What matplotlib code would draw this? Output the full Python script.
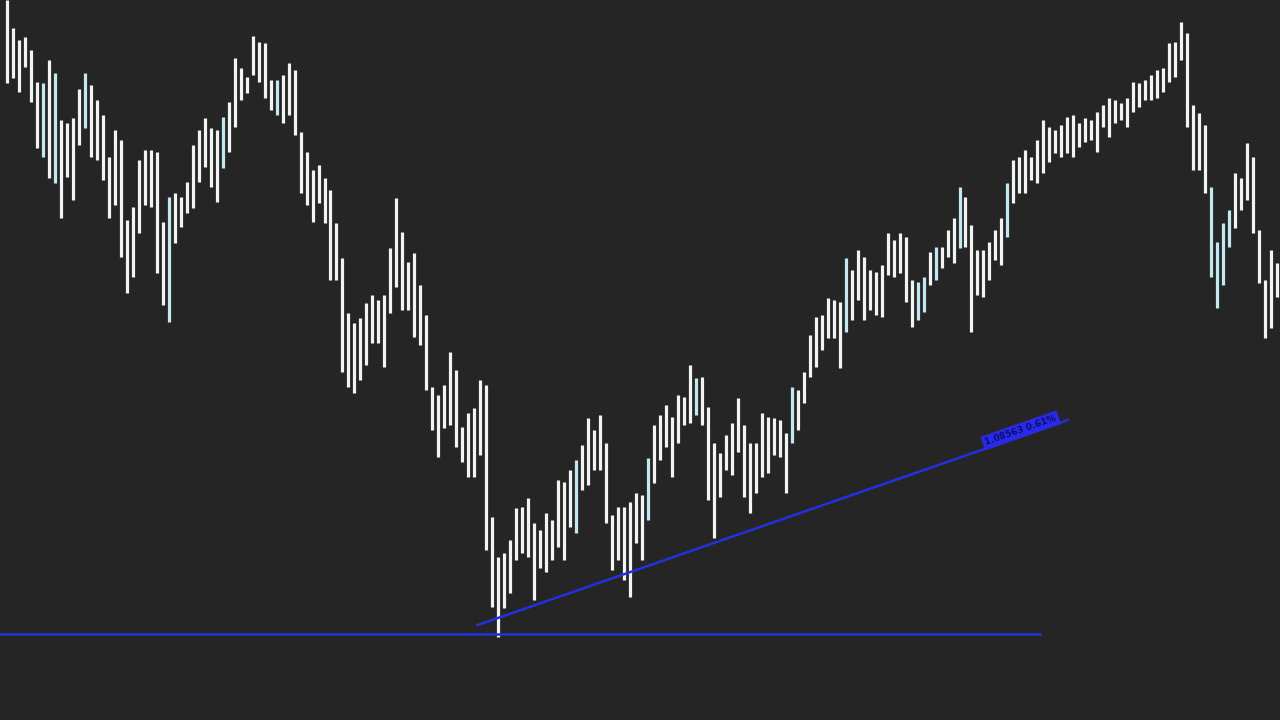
import matplotlib
matplotlib.use("Agg")
import matplotlib.pyplot as plt
import numpy as np

# Price bars (screen-level units: smaller value = higher price), read left to right
bar_top = [
    0, 28, 40, 37, 50, 82, 83, 60, 73, 120, 123, 118, 89, 73, 85, 100, 115, 157, 130, 140,
    220, 207, 160, 150, 150, 152, 222, 197, 193, 197, 182, 145, 130, 118,
    128, 130, 117, 102, 58, 68, 77, 36, 42, 43, 80, 80, 75, 63, 70, 132, 152, 170, 165, 178, 190, 223,
    258, 313, 323, 318, 303, 295, 300, 295, 248, 198, 232, 262, 253, 285, 315, 387, 395, 385, 352,
    370, 427, 413, 408, 380, 385,
    517, 557, 553, 540, 508, 507, 498, 523, 530, 513, 520, 480, 482, 470, 460, 445, 418, 430,
    415, 443, 515, 507, 507, 502, 493, 495, 458, 425, 415, 405, 417, 395, 397, 365, 378, 377,
    407, 443, 453, 435, 423, 398, 425, 443, 443, 413, 417, 418, 420, 433, 387, 390, 372, 335,
    317, 315, 298, 300, 302, 258, 270, 250, 257, 270, 272, 265, 233, 240, 233, 237, 280,
    282, 277, 252, 247, 247, 230, 218, 187, 197, 225, 250, 250, 242, 230, 218, 183, 160,
    157, 150, 157, 140, 120, 127, 130, 125, 117, 115, 123, 118, 120, 112, 105, 98, 100, 103, 98,
    82, 83, 80, 75, 70, 68, 43, 42, 22, 33,
    105, 113, 125, 187, 242, 223, 210, 173, 178, 143, 157, 230, 280, 250, 263,
]
bar_bottom = [
    83, 78, 92, 67, 102, 148, 157, 178, 183, 218, 177, 200, 145, 128, 157, 160, 180, 218, 205, 257,
    293, 277, 233, 205, 207, 273, 305, 322, 243, 227, 213, 208, 182, 167,
    187, 202, 168, 152, 127, 100, 93, 75, 82, 98, 110, 115, 123, 115, 135, 193, 205, 222, 203, 223, 280, 280,
    372, 387, 393, 380, 365, 343, 343, 367, 313, 287, 310, 310, 337, 345, 390, 430, 457, 428, 425,
    447, 462, 477, 477, 455, 550,
    607, 637, 608, 593, 560, 553, 557, 600, 568, 572, 560, 547, 560, 527, 533, 490, 485, 470,
    470, 523, 570, 560, 580, 597, 543, 560, 520, 483, 460, 447, 477, 443, 425, 423, 415, 425,
    500, 538, 497, 470, 475, 452, 497, 513, 493, 477, 473, 455, 457, 493, 443, 430, 403, 377,
    367, 350, 338, 338, 368, 332, 320, 300, 320, 310, 315, 317, 275, 277, 273, 302, 327,
    320, 312, 285, 280, 268, 257, 263, 248, 247, 332, 295, 297, 280, 260, 265, 237, 203,
    193, 193, 180, 183, 173, 162, 153, 157, 153, 157, 147, 142, 140, 152, 127, 137, 123, 120, 127,
    112, 107, 100, 100, 98, 92, 82, 77, 60, 127,
    170, 170, 193, 277, 308, 285, 247, 228, 210, 200, 233, 283, 338, 328, 297,
]
# bars drawn with a pale cyan tint (by bar index)
tinted_bars = [6, 8, 13, 27, 36, 45, 95, 107, 115, 131, 140, 152, 153, 155, 159, 167, 201, 202, 203, 204]

# Drawn objects: support level and rising trendline (bar index, level)
support_level = 634
support_span = (-1.5, 172.5)
trend_start = (78.6, 625)
trend_end = (177.1, 420)
trend_label = "1.08563 0.61%"

n = len(bar_top)
idx = np.arange(n)
colors = ["#c4e8f2" if i in tinted_bars else "#f2f4f4" for i in idx]

bg = "#252525"
fig = plt.figure(figsize=(12.8, 7.2), dpi=100, facecolor=bg)
ax = fig.add_axes([0, 0, 1, 1])
ax.set_facecolor(bg)

ax.vlines(idx, bar_top, bar_bottom, colors=colors, linewidth=2.3, capstyle="butt", zorder=2)

blue = "#2430dc"
ax.plot(support_span, [support_level, support_level], color=blue, linewidth=1.8, zorder=3)
ax.plot([trend_start[0], trend_end[0]], [trend_start[1], trend_end[1]],
        color=blue, linewidth=1.8, zorder=3)

# label at the end of the trendline
t = 0.92
lx = trend_start[0] + t * (trend_end[0] - trend_start[0])
ly = trend_start[1] + t * (trend_end[1] - trend_start[1]) - 6
ax.text(lx, ly, trend_label, rotation=19.2, rotation_mode="anchor",
        ha="center", va="center", fontsize=6.5, color="#0c0c70", fontweight="bold",
        bbox=dict(boxstyle="square,pad=0.3", facecolor="#2a2ae6", edgecolor="none"),
        zorder=4)

step = 1270 / (n - 1)
ax.set_xlim(-7 / step, (n - 1) + 3 / step)
ax.set_ylim(720, 0)
ax.axis("off")

fig.savefig("out.png", dpi=100, facecolor=bg)
